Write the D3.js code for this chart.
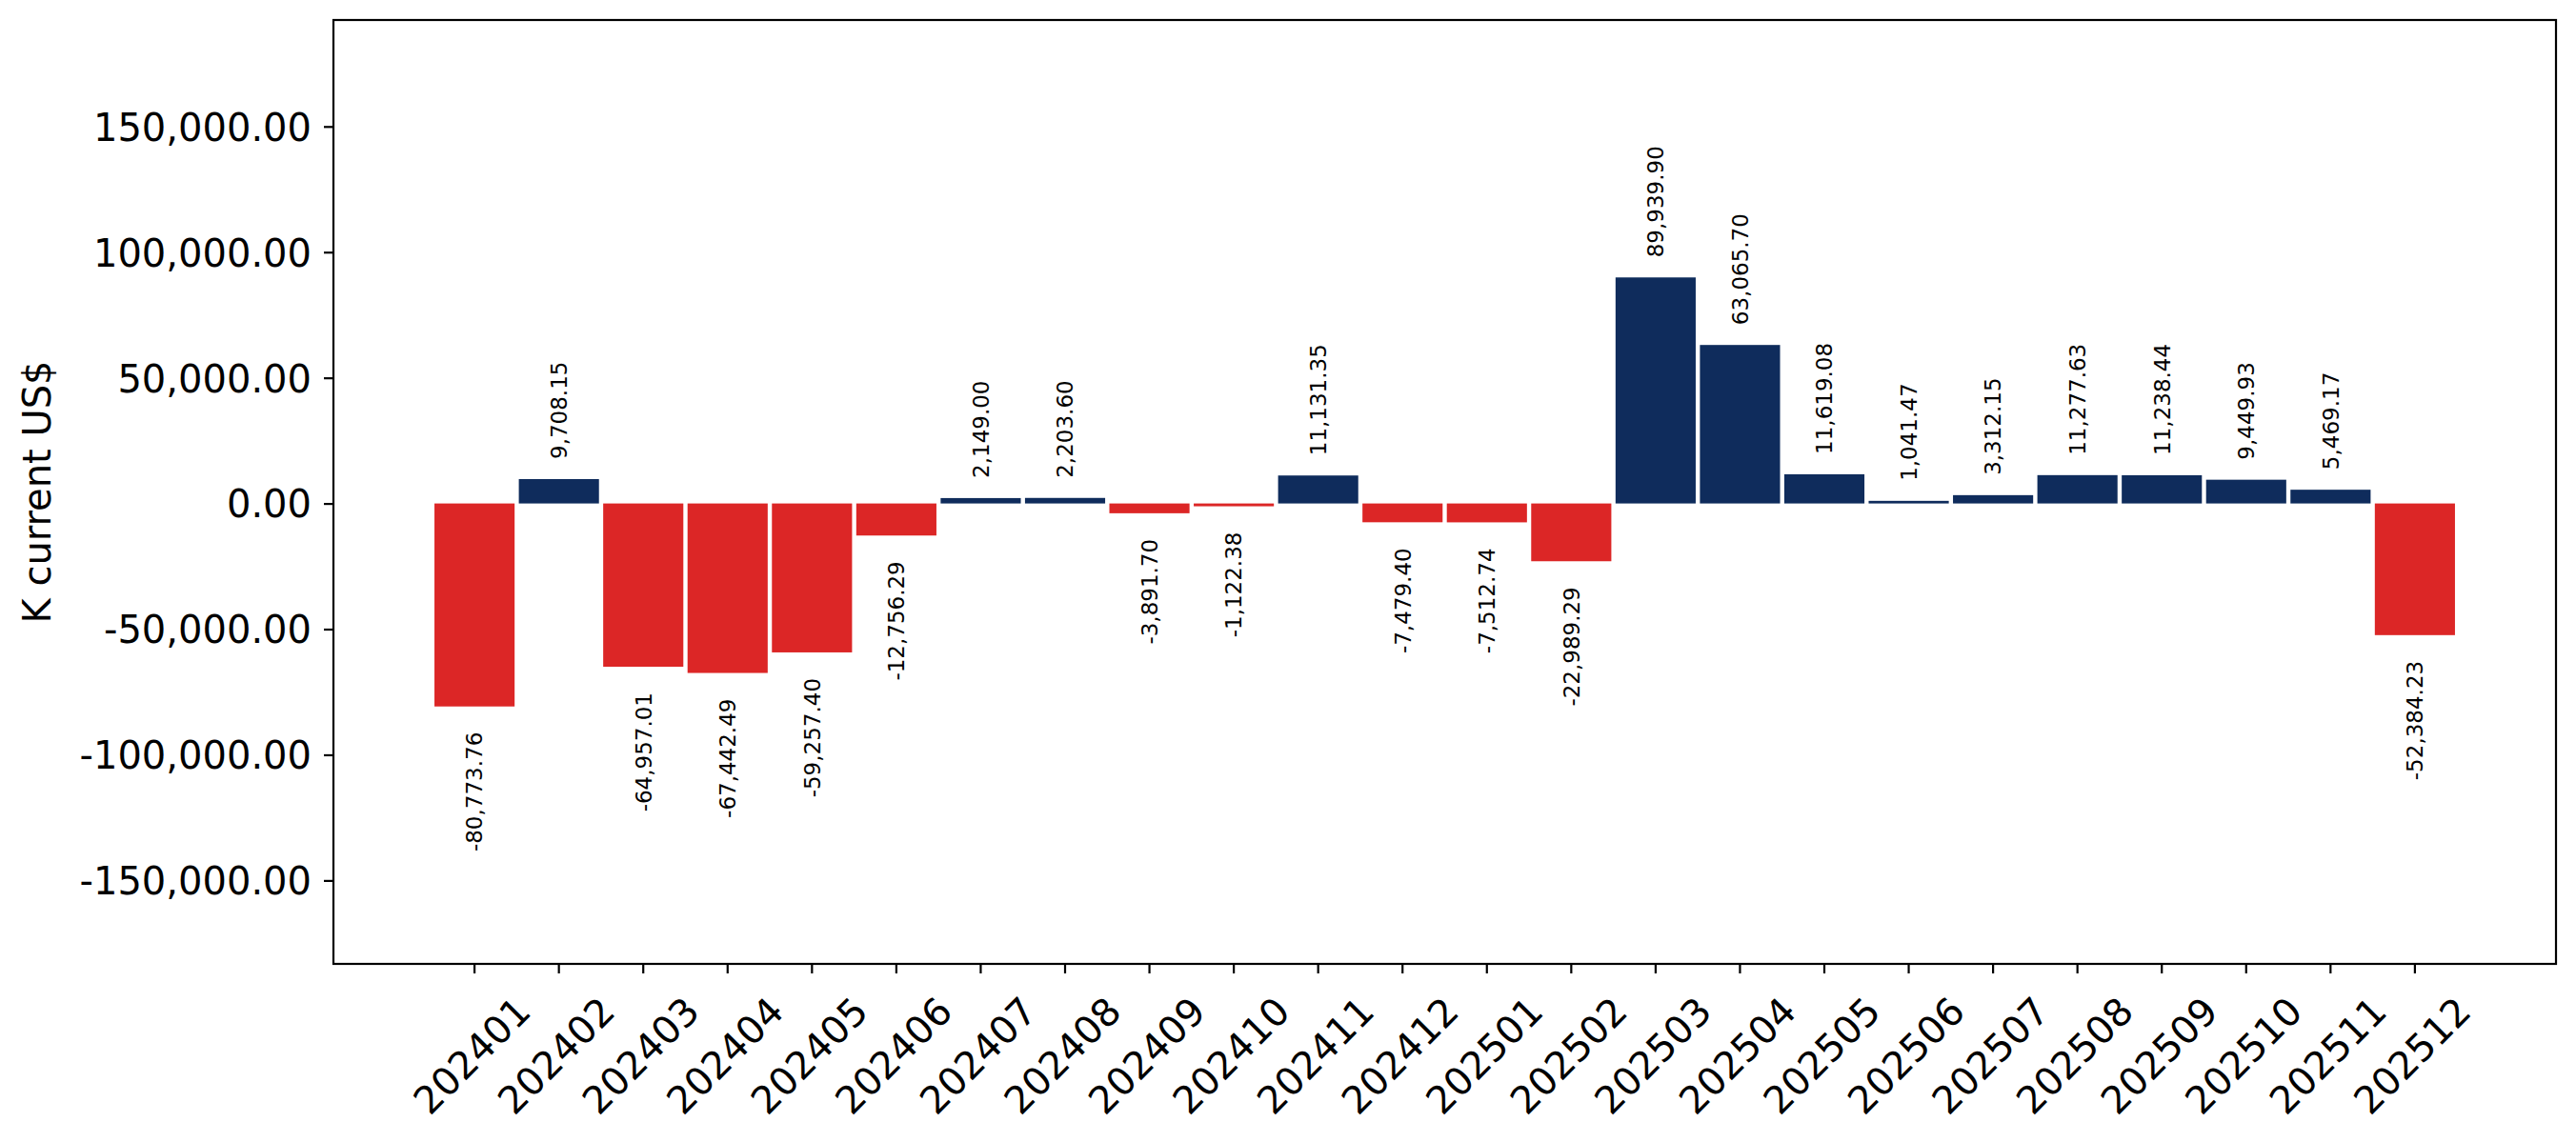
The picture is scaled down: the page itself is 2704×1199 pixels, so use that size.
<!DOCTYPE html>
<html lang="en">
<head>
	<meta charset="UTF-8"/>
	<title>Monthly balance - K current US$</title>
	<script src="https://d3js.org/d3.v7.min.js"></script>
	<style>
		body {
			margin: 0;
			padding: 0;
			background-color: #FFFFFF;
		}
		#chart svg {
			display: block;
			font-family: "DejaVu Sans", sans-serif;
		}
	</style>
</head>
<body>
	<div id="chart"></div>
	<script>
		// months on the x axis
		var months = ["202401", "202402", "202403", "202404", "202405", "202406",
			"202407", "202408", "202409", "202410", "202411", "202412",
			"202501", "202502", "202503", "202504", "202505", "202506",
			"202507", "202508", "202509", "202510", "202511", "202512"];

		// values in K current US$
		var values = [-80773.76, 9708.15, -64957.01, -67442.49, -59257.40, -12756.29,
			2149.00, 2203.60, -3891.70, -1122.38, 11131.35, -7479.40,
			-7512.74, -22989.29, 89939.90, 63065.70, 11619.08, 1041.47,
			3312.15, 11277.63, 11238.44, 9449.93, 5469.17, -52384.23];

		// y axis ticks
		var yTicks = [-150000, -100000, -50000, 0, 50000, 100000, 150000];

		var w = 2704;
		var h = 1199;
		// plot frame edges (note: "top" is reserved on window, so use a prefix)
		var plotLeft = 350, plotRight = 2683, plotTop = 21, plotBottom = 1012;

		var posColor = "#0f2c5c";
		var negColor = "#dc2626";

		// number format with a plain hyphen as minus
		var fmt = d3.formatLocale({
			decimal: ".", thousands: ",", grouping: [3], currency: ["$", ""], minus: "-"
		}).format(",.2f");

		var dataset = months.map(function (m, i) {
			return { month: m, value: values[i] };
		});

		// x scale: bands of width 0.95 with matplotlib-like margins
		var xScale = d3.scaleBand()
			.domain(months)
			.range([plotLeft, plotRight])
			.paddingInner(0.05)
			.paddingOuter(1.1975);

		// y limits: data range padded by 60% on both sides
		var yMin = d3.min(values), yMax = d3.max(values);
		var span = yMax - yMin;
		var yScale = d3.scaleLinear()
			.domain([yMin - 0.6 * span, yMax + 0.6 * span])
			.range([plotBottom, plotTop]);

		var svg = d3.select("#chart")
			.append("svg")
			.attr("width", w)
			.attr("height", h);

		svg.append("rect")
			.attr("width", w)
			.attr("height", h)
			.attr("fill", "#FFFFFF");

		// bars
		svg.selectAll("rect.bar")
			.data(dataset)
			.enter()
			.append("rect")
			.attr("class", "bar")
			.attr("x", function (d) { return xScale(d.month); })
			.attr("width", xScale.bandwidth())
			.attr("y", function (d) { return yScale(Math.max(0, d.value)); })
			.attr("height", function (d) { return Math.abs(yScale(d.value) - yScale(0)); })
			.attr("fill", function (d) { return d.value >= 0 ? posColor : negColor; });

		// value labels, rotated, above positive bars and below negative ones
		svg.selectAll("text.lbl")
			.data(dataset)
			.enter()
			.append("text")
			.attr("class", "lbl")
			.attr("transform", function (d) {
				var cx = xScale(d.month) + xScale.bandwidth() / 2;
				var cy = d.value >= 0 ? yScale(d.value) - 21 : yScale(d.value) + 27;
				return "translate(" + cx + "," + cy + ") rotate(-90)";
			})
			.attr("text-anchor", function (d) { return d.value >= 0 ? "start" : "end"; })
			.attr("dy", "0.36em")
			.attr("font-size", "23px")
			.attr("fill", "#000")
			.text(function (d) { return fmt(d.value); });

		// y axis
		var yAxis = d3.axisLeft(yScale)
			.tickValues(yTicks)
			.tickSize(10)
			.tickPadding(13)
			.tickFormat(fmt);

		var gy = svg.append("g")
			.attr("transform", "translate(" + plotLeft + ",0)")
			.call(yAxis);
		gy.select(".domain").remove();
		gy.selectAll(".tick line").attr("stroke", "#000").attr("stroke-width", 2.2);
		gy.selectAll(".tick text")
			.attr("font-size", "40px")
			.attr("font-family", "DejaVu Sans")
			.attr("fill", "#000")
			.attr("dy", "0.36em");

		// x axis with 45 degree labels
		var xAxis = d3.axisBottom(xScale).tickSize(10);
		var gx = svg.append("g")
			.attr("transform", "translate(0," + plotBottom + ")")
			.call(xAxis);
		gx.select(".domain").remove();
		gx.selectAll(".tick line").attr("stroke", "#000").attr("stroke-width", 2.2);
		gx.selectAll(".tick text")
			.attr("x", 0)
			.attr("y", 0)
			.attr("dy", "0.36em")
			.attr("transform", "translate(-3,96) rotate(-45)")
			.attr("text-anchor", "middle")
			.attr("font-size", "40px")
			.attr("font-family", "DejaVu Sans")
			.attr("fill", "#000");

		// frame
		svg.append("rect")
			.attr("x", plotLeft)
			.attr("y", plotTop)
			.attr("width", plotRight - plotLeft)
			.attr("height", plotBottom - plotTop)
			.attr("fill", "none")
			.attr("stroke", "#000")
			.attr("stroke-width", 2.2);

		// y axis label
		svg.append("text")
			.attr("transform", "translate(53," + ((plotTop + plotBottom) / 2) + ") rotate(-90)")
			.attr("text-anchor", "middle")
			.attr("font-size", "40px")
			.attr("fill", "#000")
			.text("K current US$");
	</script>
</body>
</html>
